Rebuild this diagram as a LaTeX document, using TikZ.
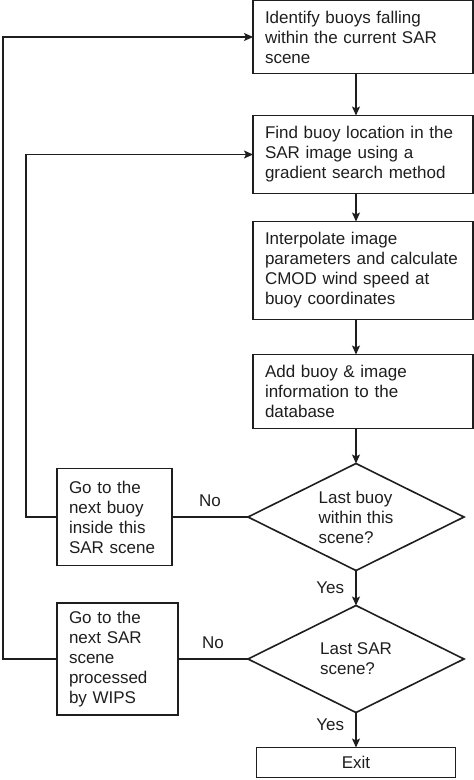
\documentclass[tikz,border=0pt]{standalone}
\usepackage{fontspec}
\setmainfont{Liberation Sans}
\usepackage{xcolor}
\usetikzlibrary{positioning, arrows.meta, shapes.geometric}

\definecolor{ink}{HTML}{1E1E1E}

\tikzset{
  procbox/.style={draw=ink, line width=1.6pt, outer sep=0pt, text width=196pt, inner xsep=12pt, align=left},
  sidebox/.style={draw=ink, line width=1.6pt, outer sep=0pt, inner xsep=12pt, align=left},
  decision/.style={diamond, draw=ink, line width=1.6pt, outer sep=0pt, aspect=2, minimum width=216pt, minimum height=107pt, inner sep=1pt, align=left},
  flow/.style={draw=ink, line width=1.2pt, -{Stealth[length=9pt,width=8pt,inset=2pt]}},
  link/.style={draw=ink, line width=1.2pt}
}

\begin{document}
\begin{tikzpicture}[x=1pt, y=1pt, node distance=35pt, text=ink, font=\fontsize{17}{20}\selectfont]
      \useasboundingbox (0,0) rectangle (474,-780);

      \node[procbox, minimum height=73pt] (b1) at (363,-37) {Identify buoys falling\\within the current SAR\\scene};
      \node[procbox, minimum height=78pt] (b2) [below=42pt of b1] {Find buoy location in the\\SAR image using a\\gradient search method};
      \node[procbox, minimum height=98pt] (b3) [below=28pt of b2] {Interpolate image\\parameters and calculate\\CMOD wind speed at\\buoy coordinates};
      \node[procbox, minimum height=74pt] (b4) [below=of b3] {Add buoy \& image\\information to the\\database};
      \node[decision] (d1) [below=of b4, xshift=-7pt] {Last buoy\\within this\\scene?};
      \node[decision] (d2) [below=of d1] {Last SAR\\scene?};
      \node[draw=ink, line width=1.6pt, outer sep=0pt, minimum width=199pt, minimum height=30pt] (exit) [below=of d2] {Exit};
      \node[sidebox, text width=91pt, minimum height=97pt] (nbuoy) [left=76pt of d1] {Go to the\\next buoy\\inside this\\SAR scene};
      \node[sidebox, text width=97pt, minimum height=112pt] (nscene) [left=70pt of d2] {Go to the\\next SAR\\scene\\processed\\by WIPS};

      \draw[flow] (b1.south -| d1.north) -- (b2.north -| d1.north);
      \draw[flow] (b2.south -| d1.north) -- (b3.north -| d1.north);
      \draw[flow] (b3.south -| d1.north) -- (b4.north -| d1.north);
      \draw[flow] (b4.south -| d1.north) -- (d1.north);
      \draw[flow] (d1.south) -- node[left=8pt] {Yes} (d2.north);
      \draw[flow] (d2.south) -- node[left=8pt, pos=0.35] {Yes} (exit.north);

      \draw[link] (d1.west) -- node[above=6pt] {No} (nbuoy.east);
      \draw[link] (d2.west) -- node[above=6pt] {No} (nscene.east);
      \draw[flow] (nbuoy.west) -- ++(-31,0) |- (b2.west);
      \draw[flow] (nscene.west) -- ++(-54,0) |- (b1.west);
\end{tikzpicture}
\end{document}
